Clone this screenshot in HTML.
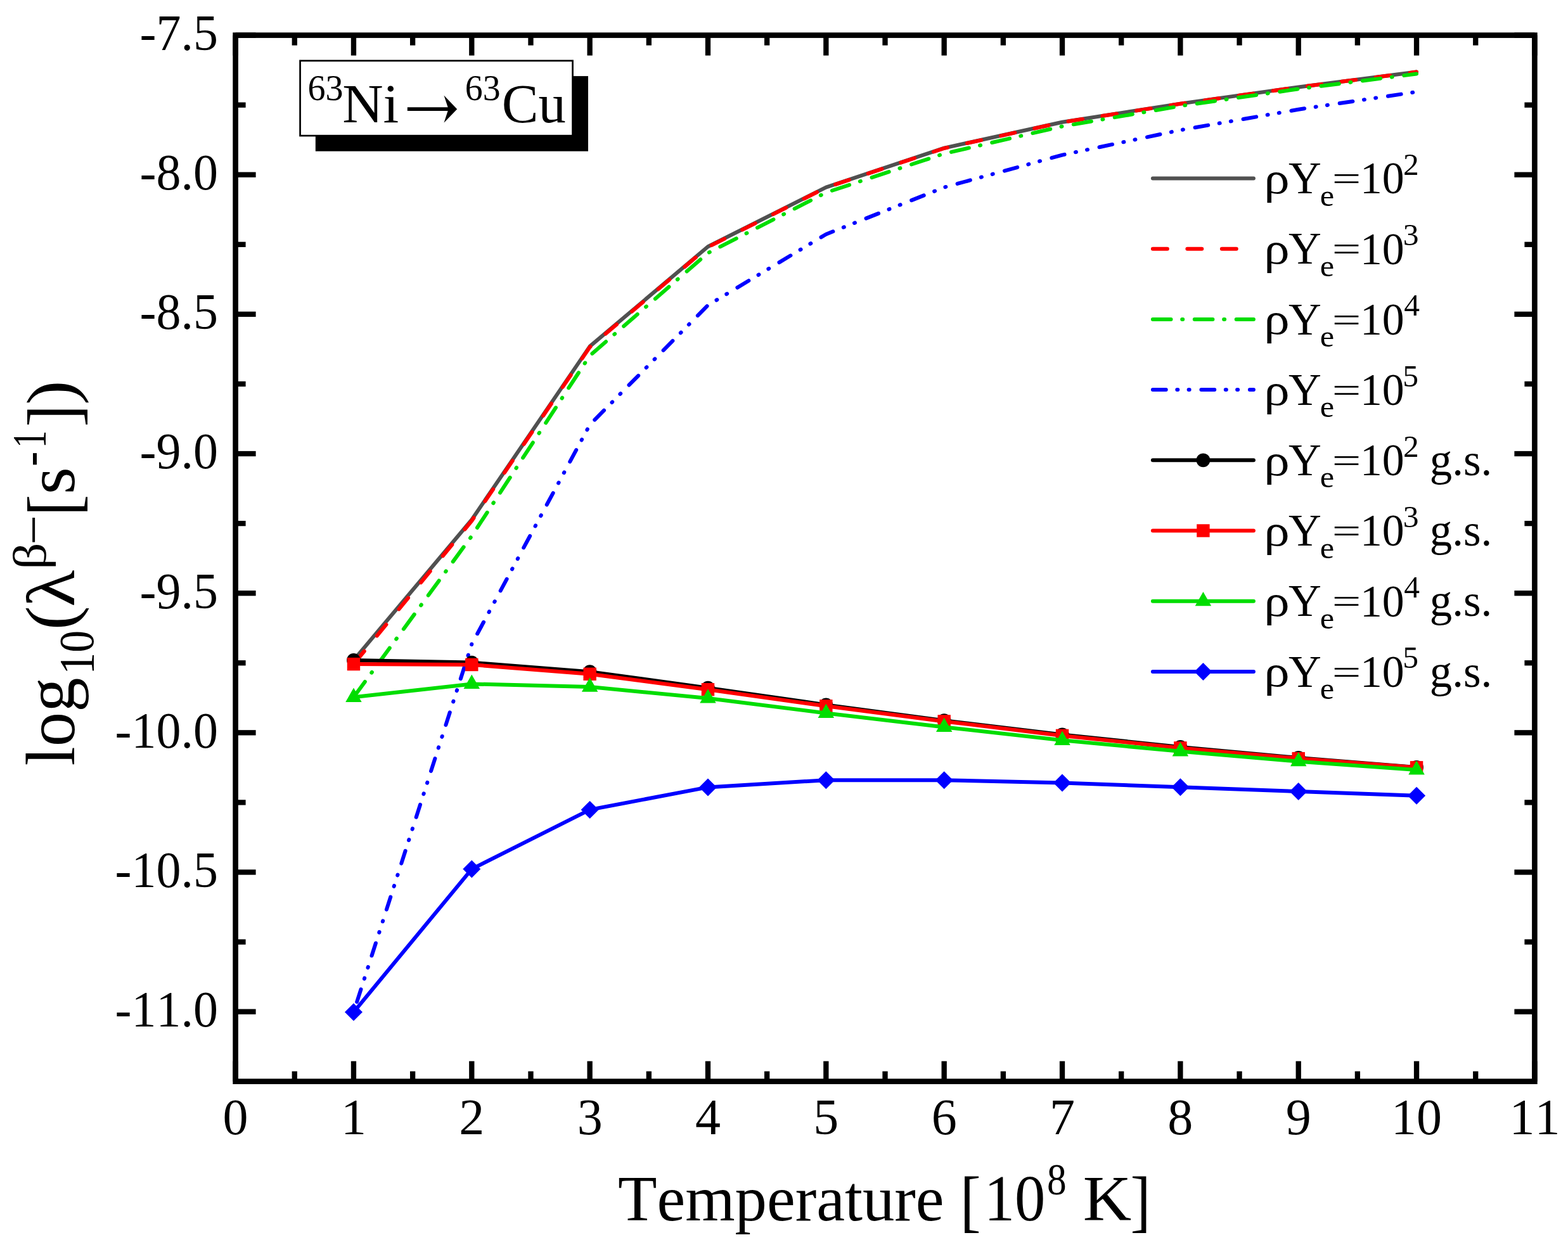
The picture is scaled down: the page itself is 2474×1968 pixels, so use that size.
<!DOCTYPE html>
<html lang="en"><head><meta charset="utf-8"><title>63Ni to 63Cu beta decay rates</title>
<style>html,body{margin:0;padding:0;background:#fff;overflow:hidden}svg{display:block}text{font-kerning:none;font-variant-ligatures:none}</style>
</head><body>
<svg width="2474" height="1968" viewBox="0 0 2474 1968" font-family="'Liberation Serif', 'Times New Roman', serif" fill="#000">
<rect x="0" y="0" width="2474" height="1968" fill="#fff"/>
<g id="curves">
<polyline points="557.95,1042.00 744.29,820.20 930.64,546.60 1116.98,389.30 1303.33,295.60 1489.67,233.60 1676.02,192.70 1862.36,163.60 2048.71,137.50 2235.05,113.60" fill="none" stroke="#505050" stroke-width="6" stroke-linejoin="round" stroke-linecap="round"/>
<polyline points="557.95,1048.10 744.29,822.00 930.64,547.80 1116.98,390.00 1303.33,296.00 1489.67,234.00 1676.02,193.00 1862.36,163.80 2048.71,137.60 2235.05,113.60" fill="none" stroke="#ff0000" stroke-width="6" stroke-linejoin="round" stroke-linecap="round" stroke-dasharray="22.9 31.57" stroke-dashoffset="-3.5"/>
<polyline points="557.95,1100.30 744.29,846.00 930.64,561.20 1116.98,399.30 1303.33,303.90 1489.67,242.50 1676.02,199.40 1862.36,167.30 2048.71,140.40 2235.05,116.60" fill="none" stroke="#00dd00" stroke-width="6" stroke-linejoin="round" stroke-linecap="round" stroke-dasharray="28.6 17.7 1 18.6" stroke-dashoffset="-1.6"/>
<polyline points="557.95,1597.30 744.29,1016.70" fill="none" stroke="#0000ff" stroke-width="6" stroke-linejoin="round" stroke-linecap="round" stroke-dasharray="20.8 17.6 1 17.3 1 18.8" stroke-dashoffset="-17"/>
<polyline points="744.29,1016.70 930.64,670.30 1116.98,481.70 1303.33,369.70 1489.67,295.70 1676.02,244.60 1862.36,205.30 2048.71,172.70 2235.05,145.00" fill="none" stroke="#0000ff" stroke-width="6" stroke-linejoin="round" stroke-linecap="round" stroke-dasharray="20.963 17.738 1.008 17.436 1.008 18.947" stroke-dashoffset="-18.7"/>
<polyline points="557.95,1042.00 744.29,1045.60 930.64,1060.20 1116.98,1085.60 1303.33,1112.40 1489.67,1137.20 1676.02,1159.50 1862.36,1179.00 2048.71,1196.00 2235.05,1211.00" fill="none" stroke="#000000" stroke-width="6" stroke-linejoin="round" stroke-linecap="round"/>
<circle cx="557.95" cy="1042.00" r="10.9" fill="#000000"/>
<circle cx="744.29" cy="1045.60" r="10.9" fill="#000000"/>
<circle cx="930.64" cy="1060.20" r="10.9" fill="#000000"/>
<circle cx="1116.98" cy="1085.60" r="10.9" fill="#000000"/>
<circle cx="1303.33" cy="1112.40" r="10.9" fill="#000000"/>
<circle cx="1489.67" cy="1137.20" r="10.9" fill="#000000"/>
<circle cx="1676.02" cy="1159.50" r="10.9" fill="#000000"/>
<circle cx="1862.36" cy="1179.00" r="10.9" fill="#000000"/>
<circle cx="2048.71" cy="1196.00" r="10.9" fill="#000000"/>
<circle cx="2235.05" cy="1211.00" r="10.9" fill="#000000"/>
<polyline points="557.95,1048.10 744.29,1049.00 930.64,1063.80 1116.98,1088.20 1303.33,1114.30 1489.67,1138.40 1676.02,1160.90 1862.36,1180.40 2048.71,1197.10 2235.05,1211.30" fill="none" stroke="#ff0000" stroke-width="6" stroke-linejoin="round" stroke-linecap="round"/>
<rect x="547.75" y="1037.90" width="20.4" height="20.4" fill="#ff0000"/>
<rect x="734.09" y="1038.80" width="20.4" height="20.4" fill="#ff0000"/>
<rect x="920.44" y="1053.60" width="20.4" height="20.4" fill="#ff0000"/>
<rect x="1106.78" y="1078.00" width="20.4" height="20.4" fill="#ff0000"/>
<rect x="1293.13" y="1104.10" width="20.4" height="20.4" fill="#ff0000"/>
<rect x="1479.47" y="1128.20" width="20.4" height="20.4" fill="#ff0000"/>
<rect x="1665.82" y="1150.70" width="20.4" height="20.4" fill="#ff0000"/>
<rect x="1852.16" y="1170.20" width="20.4" height="20.4" fill="#ff0000"/>
<rect x="2038.51" y="1186.90" width="20.4" height="20.4" fill="#ff0000"/>
<rect x="2224.85" y="1201.10" width="20.4" height="20.4" fill="#ff0000"/>
<polyline points="557.95,1100.30 744.29,1079.40 930.64,1084.10 1116.98,1102.00 1303.33,1125.50 1489.67,1147.50 1676.02,1168.30 1862.36,1185.80 2048.71,1201.70 2235.05,1215.00" fill="none" stroke="#00dd00" stroke-width="6" stroke-linejoin="round" stroke-linecap="round"/>
<polygon points="557.95,1085.50 570.70,1107.90 545.20,1107.90" fill="#00dd00"/>
<polygon points="744.29,1064.60 757.04,1087.00 731.54,1087.00" fill="#00dd00"/>
<polygon points="930.64,1069.30 943.39,1091.70 917.89,1091.70" fill="#00dd00"/>
<polygon points="1116.98,1087.20 1129.73,1109.60 1104.23,1109.60" fill="#00dd00"/>
<polygon points="1303.33,1110.70 1316.08,1133.10 1290.58,1133.10" fill="#00dd00"/>
<polygon points="1489.67,1132.70 1502.42,1155.10 1476.92,1155.10" fill="#00dd00"/>
<polygon points="1676.02,1153.50 1688.77,1175.90 1663.27,1175.90" fill="#00dd00"/>
<polygon points="1862.36,1171.00 1875.11,1193.40 1849.61,1193.40" fill="#00dd00"/>
<polygon points="2048.71,1186.90 2061.46,1209.30 2035.96,1209.30" fill="#00dd00"/>
<polygon points="2235.05,1200.20 2247.80,1222.60 2222.30,1222.60" fill="#00dd00"/>
<polyline points="557.95,1597.30 744.29,1371.60 930.64,1277.90 1116.98,1242.40 1303.33,1231.20 1489.67,1231.20 1676.02,1235.50 1862.36,1242.20 2048.71,1249.10 2235.05,1255.70" fill="none" stroke="#0000ff" stroke-width="6" stroke-linejoin="round" stroke-linecap="round"/>
<polygon points="557.95,1583.30 571.95,1597.30 557.95,1611.30 543.95,1597.30" fill="#0000ff"/>
<polygon points="744.29,1357.60 758.29,1371.60 744.29,1385.60 730.29,1371.60" fill="#0000ff"/>
<polygon points="930.64,1263.90 944.64,1277.90 930.64,1291.90 916.64,1277.90" fill="#0000ff"/>
<polygon points="1116.98,1228.40 1130.98,1242.40 1116.98,1256.40 1102.98,1242.40" fill="#0000ff"/>
<polygon points="1303.33,1217.20 1317.33,1231.20 1303.33,1245.20 1289.33,1231.20" fill="#0000ff"/>
<polygon points="1489.67,1217.20 1503.67,1231.20 1489.67,1245.20 1475.67,1231.20" fill="#0000ff"/>
<polygon points="1676.02,1221.50 1690.02,1235.50 1676.02,1249.50 1662.02,1235.50" fill="#0000ff"/>
<polygon points="1862.36,1228.20 1876.36,1242.20 1862.36,1256.20 1848.36,1242.20" fill="#0000ff"/>
<polygon points="2048.71,1235.10 2062.71,1249.10 2048.71,1263.10 2034.71,1249.10" fill="#0000ff"/>
<polygon points="2235.05,1241.70 2249.05,1255.70 2235.05,1269.70 2221.05,1255.70" fill="#0000ff"/>
</g>
<g id="axes" fill="#000">
<rect x="367.45" y="1674.70" width="8.30" height="32.00"/>
<rect x="367.45" y="55.60" width="8.30" height="32.00"/>
<rect x="553.80" y="1674.70" width="8.30" height="32.00"/>
<rect x="553.80" y="55.60" width="8.30" height="32.00"/>
<rect x="740.14" y="1674.70" width="8.30" height="32.00"/>
<rect x="740.14" y="55.60" width="8.30" height="32.00"/>
<rect x="926.49" y="1674.70" width="8.30" height="32.00"/>
<rect x="926.49" y="55.60" width="8.30" height="32.00"/>
<rect x="1112.83" y="1674.70" width="8.30" height="32.00"/>
<rect x="1112.83" y="55.60" width="8.30" height="32.00"/>
<rect x="1299.18" y="1674.70" width="8.30" height="32.00"/>
<rect x="1299.18" y="55.60" width="8.30" height="32.00"/>
<rect x="1485.52" y="1674.70" width="8.30" height="32.00"/>
<rect x="1485.52" y="55.60" width="8.30" height="32.00"/>
<rect x="1671.87" y="1674.70" width="8.30" height="32.00"/>
<rect x="1671.87" y="55.60" width="8.30" height="32.00"/>
<rect x="1858.21" y="1674.70" width="8.30" height="32.00"/>
<rect x="1858.21" y="55.60" width="8.30" height="32.00"/>
<rect x="2044.56" y="1674.70" width="8.30" height="32.00"/>
<rect x="2044.56" y="55.60" width="8.30" height="32.00"/>
<rect x="2230.90" y="1674.70" width="8.30" height="32.00"/>
<rect x="2230.90" y="55.60" width="8.30" height="32.00"/>
<rect x="2417.25" y="1674.70" width="8.30" height="32.00"/>
<rect x="2417.25" y="55.60" width="8.30" height="32.00"/>
<rect x="460.62" y="1690.70" width="8.30" height="16.00"/>
<rect x="460.62" y="55.60" width="8.30" height="16.00"/>
<rect x="646.97" y="1690.70" width="8.30" height="16.00"/>
<rect x="646.97" y="55.60" width="8.30" height="16.00"/>
<rect x="833.31" y="1690.70" width="8.30" height="16.00"/>
<rect x="833.31" y="55.60" width="8.30" height="16.00"/>
<rect x="1019.66" y="1690.70" width="8.30" height="16.00"/>
<rect x="1019.66" y="55.60" width="8.30" height="16.00"/>
<rect x="1206.00" y="1690.70" width="8.30" height="16.00"/>
<rect x="1206.00" y="55.60" width="8.30" height="16.00"/>
<rect x="1392.35" y="1690.70" width="8.30" height="16.00"/>
<rect x="1392.35" y="55.60" width="8.30" height="16.00"/>
<rect x="1578.70" y="1690.70" width="8.30" height="16.00"/>
<rect x="1578.70" y="55.60" width="8.30" height="16.00"/>
<rect x="1765.04" y="1690.70" width="8.30" height="16.00"/>
<rect x="1765.04" y="55.60" width="8.30" height="16.00"/>
<rect x="1951.39" y="1690.70" width="8.30" height="16.00"/>
<rect x="1951.39" y="55.60" width="8.30" height="16.00"/>
<rect x="2137.73" y="1690.70" width="8.30" height="16.00"/>
<rect x="2137.73" y="55.60" width="8.30" height="16.00"/>
<rect x="2324.08" y="1690.70" width="8.30" height="16.00"/>
<rect x="2324.08" y="55.60" width="8.30" height="16.00"/>
<rect x="371.60" y="51.45" width="32.00" height="8.30"/>
<rect x="2389.40" y="51.45" width="32.00" height="8.30"/>
<rect x="371.60" y="271.60" width="32.00" height="8.30"/>
<rect x="2389.40" y="271.60" width="32.00" height="8.30"/>
<rect x="371.60" y="491.74" width="32.00" height="8.30"/>
<rect x="2389.40" y="491.74" width="32.00" height="8.30"/>
<rect x="371.60" y="711.89" width="32.00" height="8.30"/>
<rect x="2389.40" y="711.89" width="32.00" height="8.30"/>
<rect x="371.60" y="932.04" width="32.00" height="8.30"/>
<rect x="2389.40" y="932.04" width="32.00" height="8.30"/>
<rect x="371.60" y="1152.18" width="32.00" height="8.30"/>
<rect x="2389.40" y="1152.18" width="32.00" height="8.30"/>
<rect x="371.60" y="1372.33" width="32.00" height="8.30"/>
<rect x="2389.40" y="1372.33" width="32.00" height="8.30"/>
<rect x="371.60" y="1592.48" width="32.00" height="8.30"/>
<rect x="2389.40" y="1592.48" width="32.00" height="8.30"/>
<rect x="371.60" y="161.52" width="16.00" height="8.30"/>
<rect x="2405.40" y="161.52" width="16.00" height="8.30"/>
<rect x="371.60" y="381.67" width="16.00" height="8.30"/>
<rect x="2405.40" y="381.67" width="16.00" height="8.30"/>
<rect x="371.60" y="601.82" width="16.00" height="8.30"/>
<rect x="2405.40" y="601.82" width="16.00" height="8.30"/>
<rect x="371.60" y="821.96" width="16.00" height="8.30"/>
<rect x="2405.40" y="821.96" width="16.00" height="8.30"/>
<rect x="371.60" y="1042.11" width="16.00" height="8.30"/>
<rect x="2405.40" y="1042.11" width="16.00" height="8.30"/>
<rect x="371.60" y="1262.26" width="16.00" height="8.30"/>
<rect x="2405.40" y="1262.26" width="16.00" height="8.30"/>
<rect x="371.60" y="1482.40" width="16.00" height="8.30"/>
<rect x="2405.40" y="1482.40" width="16.00" height="8.30"/>
<rect x="371.60" y="55.60" width="2049.80" height="1651.10" fill="none" stroke="#000" stroke-width="8.6" stroke-linejoin="miter"/>
</g>
<g id="ticklabels">
<text transform="translate(351.60,1790.30)" font-size="80">0</text>
<text transform="translate(537.95,1790.30)" font-size="80">1</text>
<text transform="translate(724.29,1790.30)" font-size="80">2</text>
<text transform="translate(910.64,1790.30)" font-size="80">3</text>
<text transform="translate(1096.98,1790.30)" font-size="80">4</text>
<text transform="translate(1283.33,1790.30)" font-size="80">5</text>
<text transform="translate(1469.67,1790.30)" font-size="80">6</text>
<text transform="translate(1656.02,1790.30)" font-size="80">7</text>
<text transform="translate(1842.36,1790.30)" font-size="80">8</text>
<text transform="translate(2028.71,1790.30)" font-size="80">9</text>
<text transform="translate(2195.05,1790.30)" font-size="80">10</text>
<text transform="translate(2381.40,1790.30)" font-size="80">11</text>
<text transform="translate(220.57,79.00) scale(0.9750,1.0000)" font-size="80">-7.5</text>
<text transform="translate(220.50,299.15) scale(0.9750,1.0000)" font-size="80">-8.0</text>
<text transform="translate(220.57,519.29) scale(0.9750,1.0000)" font-size="80">-8.5</text>
<text transform="translate(220.50,739.44) scale(0.9750,1.0000)" font-size="80">-9.0</text>
<text transform="translate(220.57,959.59) scale(0.9750,1.0000)" font-size="80">-9.5</text>
<text transform="translate(181.50,1179.73) scale(0.9750,1.0000)" font-size="80">-10.0</text>
<text transform="translate(181.57,1399.88) scale(0.9750,1.0000)" font-size="80">-10.5</text>
<text transform="translate(181.50,1620.03) scale(0.9750,1.0000)" font-size="80">-11.0</text>
</g>
<g id="titles">
<text transform="translate(974.88,1925.84) scale(1.0077,1.0223)" font-size="100">Temperature</text>
<text transform="translate(1514.67,1931.69) scale(0.9881,1.0693)" font-size="100">[</text>
<text transform="translate(1552.70,1926.09) scale(0.9668,1.0314)" font-size="100">10</text>
<text transform="translate(1651.96,1885.12) scale(0.6135,0.6965)" font-size="100">8</text>
<text transform="translate(1708.65,1925.60) scale(1.0584,1.0171)" font-size="100">K</text>
<text transform="translate(1783.53,1931.69) scale(0.9611,1.0693)" font-size="100">]</text>
<text transform="translate(117.10,1208.38) rotate(-90) scale(1.0866,1.0982)" font-size="100">log</text>
<text transform="translate(147.25,1064.65) rotate(-90) scale(0.7002,0.7721)" font-size="100">10</text>
<text transform="translate(116.78,994.21) rotate(-90) scale(1.1408,1.0907)" font-size="100">(</text>
<text transform="translate(117.40,958.07) rotate(-90) scale(1.2028,1.0879)" font-size="100">λ</text>
<text transform="translate(72.35,899.11) rotate(-90) scale(0.8386,0.7350)" font-size="100">β</text>
<text transform="translate(79.57,859.83) rotate(-90) scale(0.8295,0.8031)" font-size="100">−</text>
<text transform="translate(122.94,814.17) rotate(-90) scale(1.0060,1.1478)" font-size="100">[</text>
<text transform="translate(117.15,780.14) rotate(-90) scale(1.1057,1.0770)" font-size="100">s</text>
<text transform="translate(74.32,736.11) rotate(-90) scale(0.7045,0.8031)" font-size="100">-</text>
<text transform="translate(71.80,707.04) rotate(-90) scale(0.5511,0.7513)" font-size="100">1</text>
<text transform="translate(122.94,673.70) rotate(-90) scale(1.0509,1.1478)" font-size="100">]</text>
<text transform="translate(116.74,639.04) rotate(-90) scale(1.1603,1.0830)" font-size="100">)</text>
</g>
<g id="legend">
<line x1="1818.9" y1="281.50" x2="1977.9" y2="281.50" stroke="#505050" stroke-width="6" stroke-linecap="round"/>
<text transform="translate(1994.37,304.98) scale(0.8121,0.6963)" font-size="100">ρ</text>
<text transform="translate(2032.89,305.10) scale(0.7177,0.7178)" font-size="100">Y</text>
<text transform="translate(2082.73,324.54) scale(0.5052,0.4761)" font-size="100">e</text>
<text transform="translate(2101.78,301.21) scale(0.8080,0.5800)" font-size="100">=</text>
<text transform="translate(2145.88,305.40) scale(0.6968,0.7202)" font-size="100">10</text>
<text transform="translate(2213.92,275.90)" font-size="49.5">2</text>
<line x1="1818.9" y1="392.70" x2="1977.9" y2="392.70" stroke="#ff0000" stroke-width="6" stroke-linecap="round" stroke-dasharray="22.9 31.57"/>
<text transform="translate(1994.37,416.18) scale(0.8121,0.6963)" font-size="100">ρ</text>
<text transform="translate(2032.89,416.30) scale(0.7177,0.7178)" font-size="100">Y</text>
<text transform="translate(2082.73,435.74) scale(0.5052,0.4761)" font-size="100">e</text>
<text transform="translate(2101.78,412.41) scale(0.8080,0.5800)" font-size="100">=</text>
<text transform="translate(2145.88,416.60) scale(0.6968,0.7202)" font-size="100">10</text>
<text transform="translate(2213.73,387.10)" font-size="49.5">3</text>
<line x1="1818.9" y1="503.90" x2="1977.9" y2="503.90" stroke="#00dd00" stroke-width="6" stroke-linecap="round" stroke-dasharray="28.6 17.7 1 18.6"/>
<text transform="translate(1994.37,527.38) scale(0.8121,0.6963)" font-size="100">ρ</text>
<text transform="translate(2032.89,527.50) scale(0.7177,0.7178)" font-size="100">Y</text>
<text transform="translate(2082.73,546.94) scale(0.5052,0.4761)" font-size="100">e</text>
<text transform="translate(2101.78,523.61) scale(0.8080,0.5800)" font-size="100">=</text>
<text transform="translate(2145.88,527.80) scale(0.6968,0.7202)" font-size="100">10</text>
<text transform="translate(2215.13,498.30)" font-size="49.5">4</text>
<line x1="1818.9" y1="615.10" x2="1977.9" y2="615.10" stroke="#0000ff" stroke-width="6" stroke-linecap="round" stroke-dasharray="20.8 17.6 1 17.3 1 18.8"/>
<text transform="translate(1994.37,638.58) scale(0.8121,0.6963)" font-size="100">ρ</text>
<text transform="translate(2032.89,638.70) scale(0.7177,0.7178)" font-size="100">Y</text>
<text transform="translate(2082.73,658.14) scale(0.5052,0.4761)" font-size="100">e</text>
<text transform="translate(2101.78,634.81) scale(0.8080,0.5800)" font-size="100">=</text>
<text transform="translate(2145.88,639.00) scale(0.6968,0.7202)" font-size="100">10</text>
<text transform="translate(2213.22,609.50)" font-size="49.5">5</text>
<line x1="1818.9" y1="726.30" x2="1977.9" y2="726.30" stroke="#000000" stroke-width="6" stroke-linecap="round"/>
<circle cx="1898.40" cy="726.30" r="10.9" fill="#000000"/>
<text transform="translate(1994.37,749.78) scale(0.8121,0.6963)" font-size="100">ρ</text>
<text transform="translate(2032.89,749.90) scale(0.7177,0.7178)" font-size="100">Y</text>
<text transform="translate(2082.73,769.34) scale(0.5052,0.4761)" font-size="100">e</text>
<text transform="translate(2101.78,746.01) scale(0.8080,0.5800)" font-size="100">=</text>
<text transform="translate(2145.88,750.20) scale(0.6968,0.7202)" font-size="100">10</text>
<text transform="translate(2213.92,720.70)" font-size="49.5">2</text>
<text transform="translate(2255.76,749.90) scale(0.9839,1.0000)" font-size="72">g.s.</text>
<line x1="1818.9" y1="837.50" x2="1977.9" y2="837.50" stroke="#ff0000" stroke-width="6" stroke-linecap="round"/>
<rect x="1888.20" y="827.30" width="20.4" height="20.4" fill="#ff0000"/>
<text transform="translate(1994.37,860.98) scale(0.8121,0.6963)" font-size="100">ρ</text>
<text transform="translate(2032.89,861.10) scale(0.7177,0.7178)" font-size="100">Y</text>
<text transform="translate(2082.73,880.54) scale(0.5052,0.4761)" font-size="100">e</text>
<text transform="translate(2101.78,857.21) scale(0.8080,0.5800)" font-size="100">=</text>
<text transform="translate(2145.88,861.40) scale(0.6968,0.7202)" font-size="100">10</text>
<text transform="translate(2213.73,831.90)" font-size="49.5">3</text>
<text transform="translate(2255.76,861.10) scale(0.9839,1.0000)" font-size="72">g.s.</text>
<line x1="1818.9" y1="948.70" x2="1977.9" y2="948.70" stroke="#00dd00" stroke-width="6" stroke-linecap="round"/>
<polygon points="1898.40,933.90 1911.15,956.30 1885.65,956.30" fill="#00dd00"/>
<text transform="translate(1994.37,972.18) scale(0.8121,0.6963)" font-size="100">ρ</text>
<text transform="translate(2032.89,972.30) scale(0.7177,0.7178)" font-size="100">Y</text>
<text transform="translate(2082.73,991.74) scale(0.5052,0.4761)" font-size="100">e</text>
<text transform="translate(2101.78,968.41) scale(0.8080,0.5800)" font-size="100">=</text>
<text transform="translate(2145.88,972.60) scale(0.6968,0.7202)" font-size="100">10</text>
<text transform="translate(2215.13,943.10)" font-size="49.5">4</text>
<text transform="translate(2255.76,972.30) scale(0.9839,1.0000)" font-size="72">g.s.</text>
<line x1="1818.9" y1="1059.90" x2="1977.9" y2="1059.90" stroke="#0000ff" stroke-width="6" stroke-linecap="round"/>
<polygon points="1898.40,1045.90 1912.40,1059.90 1898.40,1073.90 1884.40,1059.90" fill="#0000ff"/>
<text transform="translate(1994.37,1083.38) scale(0.8121,0.6963)" font-size="100">ρ</text>
<text transform="translate(2032.89,1083.50) scale(0.7177,0.7178)" font-size="100">Y</text>
<text transform="translate(2082.73,1102.94) scale(0.5052,0.4761)" font-size="100">e</text>
<text transform="translate(2101.78,1079.61) scale(0.8080,0.5800)" font-size="100">=</text>
<text transform="translate(2145.88,1083.80) scale(0.6968,0.7202)" font-size="100">10</text>
<text transform="translate(2213.22,1054.30)" font-size="49.5">5</text>
<text transform="translate(2255.76,1083.50) scale(0.9839,1.0000)" font-size="72">g.s.</text>
</g>
<g id="label">
<rect x="497.8" y="120.1" width="430.2" height="118.6" fill="#000"/>
<rect x="473.55" y="95.85" width="430.0" height="118.3" fill="#fff" stroke="#000" stroke-width="2.7"/>
<text transform="translate(485.39,158.20) scale(0.9673,1.0000)" font-size="58">63</text>
<text transform="translate(540.13,193.20) scale(1.0202,1.0000)" font-size="87.5">Ni</text>
<text transform="translate(636.48,222.96) scale(0.9113,1.4153)" font-size="100" font-family="'WenQuanYi Zen Hei', 'Liberation Serif', serif">→</text>
<text transform="translate(733.80,158.20) scale(0.9616,1.0000)" font-size="58">63</text>
<text transform="translate(791.65,193.20) scale(0.9904,1.0000)" font-size="87.5">Cu</text>
</g>
</svg>
</body></html>
